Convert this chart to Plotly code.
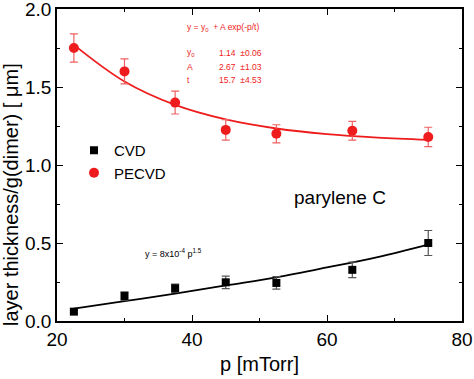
import plotly.graph_objects as go

# data
p_vals = [22.5, 30, 37.5, 45, 52.5, 63.75, 75]
cvd_y = [0.06, 0.16, 0.21, 0.248, 0.244, 0.328, 0.50]
cvd_err = [0.01, 0.027, 0.027, 0.04, 0.04, 0.05, 0.08]
pecvd_y = [1.75, 1.60, 1.40, 1.225, 1.20, 1.22, 1.18]
pecvd_err = [0.09, 0.08, 0.073, 0.066, 0.058, 0.06, 0.062]

fit_p = [22.5, 30, 37.5, 45, 52.5, 60, 67.5, 75]
pecvd_fit = [1.77, 1.535, 1.385, 1.292, 1.234, 1.198, 1.176, 1.162]
cvd_fit = [0.08, 0.127, 0.175, 0.228, 0.28, 0.343, 0.41, 0.49]

FONT = "Liberation Sans, Arial, sans-serif"
RED = "#ee1c1c"

fig = go.Figure()
fig.add_trace(go.Scatter(x=fit_p, y=cvd_fit, mode="lines", line=dict(color="black", width=1.8, shape="spline"),
                         showlegend=False, hoverinfo="skip"))
fig.add_trace(go.Scatter(x=fit_p, y=pecvd_fit, mode="lines", line=dict(color=RED, width=1.8, shape="spline"),
                         showlegend=False, hoverinfo="skip"))
fig.add_trace(go.Scatter(x=p_vals, y=cvd_y, mode="markers", name="CVD",
                         marker=dict(symbol="square", size=8, color="black"),
                         error_y=dict(type="data", array=cvd_err, color="#555555", thickness=1.2, width=4)))
fig.add_trace(go.Scatter(x=p_vals, y=pecvd_y, mode="markers", name="PECVD",
                         marker=dict(symbol="circle", size=10, color=RED),
                         error_y=dict(type="data", array=pecvd_err, color="#f06060", thickness=1.2, width=4)))

axis_common = dict(showline=True, linecolor="black", linewidth=1.5, mirror="allticks",
                   ticks="inside", ticklen=6, tickwidth=1.2, tickcolor="black",
                   showgrid=False, zeroline=False, automargin=False,
                   ticklabeloverflow="allow",
                   tickfont=dict(family=FONT, size=19, color="black"))
fig.update_xaxes(range=[20, 80], dtick=20, tick0=20,
                 minor=dict(dtick=10, ticks="inside", ticklen=3, tickcolor="black", tickwidth=1),
                 title=dict(text="p [mTorr]", font=dict(family=FONT, size=20, color="black"), standoff=8),
                 **axis_common)
fig.update_yaxes(range=[0, 2], dtick=0.5, tick0=0, tickformat=".1f",
                 minor=dict(dtick=0.25, ticks="inside", ticklen=3, tickcolor="black", tickwidth=1),
                 **axis_common)

L, R, T, B = 57, 12, 9, 58
W, H = 474, 379
pw, ph = W - L - R, H - T - B

anns = [
    dict(x=185, y=27, text="y = y<sub>0</sub>  + A exp(-p/t)", size=8.5, color=RED),
    dict(x=185, y=53, text="y<sub>0</sub>", size=8.5, color=RED),
    dict(x=217, y=53, text="1.14  ±0.06", size=8.5, color=RED),
    dict(x=185, y=67, text="A", size=8.5, color=RED),
    dict(x=217, y=67, text="2.67  ±1.03", size=8.5, color=RED),
    dict(x=185, y=80, text="t", size=8.5, color=RED),
    dict(x=217, y=80, text="15.7  ±4.53", size=8.5, color=RED),
    dict(x=292, y=197, text="parylene C", size=19, color="black"),
    dict(x=143, y=253, text="y = 8x10<sup>-4</sup> p<sup>1.5</sup>", size=9, color="black"),
]
for a in anns:
    fig.add_annotation(xref="paper", yref="paper",
                       x=(a["x"] - L) / pw, y=1 - (a["y"] - T) / ph,
                       xanchor="left", yanchor="middle", showarrow=False,
                       text=a["text"], font=dict(family=FONT, size=a["size"], color=a["color"]))

# y-axis title (placed slightly below the axis centre, as in the reference)
fig.add_annotation(xref="paper", yref="paper", x=(11 - L) / pw, y=1 - (195 - T) / ph,
                   xanchor="center", yanchor="middle", showarrow=False, textangle=-90,
                   text="layer thickness/g(dimer) [ μm]",
                   font=dict(family=FONT, size=20, color="black"))

fig.update_layout(
    width=W, height=H, margin=dict(l=L, r=R, t=T, b=B),
    plot_bgcolor="white", paper_bgcolor="white",
    legend=dict(x=(74 - L) / pw, y=1 - (134 - T) / ph, xanchor="left", yanchor="top",
                bgcolor="rgba(0,0,0,0)", font=dict(family=FONT, size=15, color="black"),
                tracegroupgap=0),
)
fig.write_html("out.html", config={"displayModeBar": False},
               post_script="document.body.style.margin='0';")
